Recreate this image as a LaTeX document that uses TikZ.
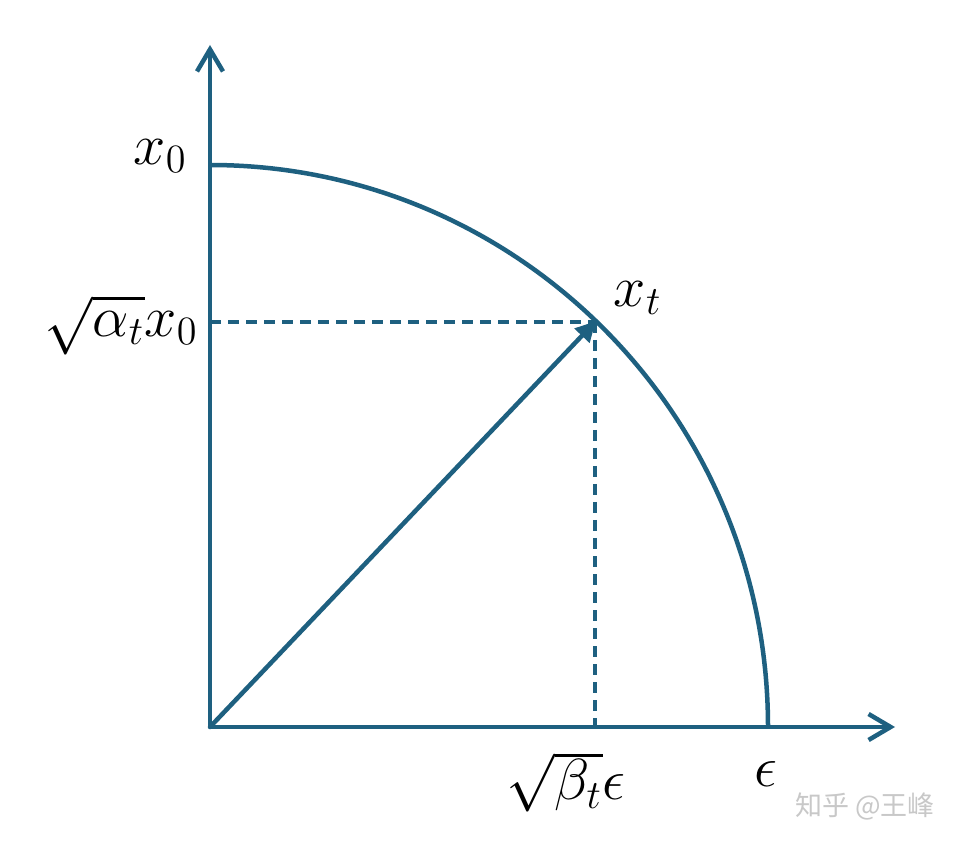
\documentclass[tikz,border=0pt]{standalone}
\usepackage{fontspec}
\usetikzlibrary{arrows.meta}
\newfontfamily\cjk{Noto Sans CJK SC}
\definecolor{axisblue}{RGB}{30,96,128}
\definecolor{wmgray}{RGB}{200,200,200}
\tikzset{
  axisline/.style={draw=axisblue, line width=4.5pt, line cap=round, -{Straight Barb[length=22pt,width=26pt,line width=4.5pt]}},
  curveline/.style={draw=axisblue, line width=4.5pt},
  vecline/.style={draw=axisblue, line width=4.5pt, -{Triangle[length=20pt,width=20pt]}, shorten >=-1pt},
  dashline/.style={draw=axisblue, line width=4pt, dash pattern=on 11pt off 7pt},
  mathlabel/.style={inner sep=0pt, font=\LARGE, scale=3.35, transform shape},
}
\begin{document}
\begin{tikzpicture}[x=1pt,y=1pt]
\path[use as bounding box, fill=white] (0,0) rectangle (966,844);
\coordinate (O) at (210,117);
\coordinate (ytip) at (210,799);
\coordinate (xtip) at (895,117);
\coordinate (top) at (210,679);
\coordinate (xt) at (595,522);
\coordinate (ya) at (210,522);
\coordinate (xb) at (595,117);
% dashed projections
\draw[dashline] (ya) -- (xt);
\draw[dashline] (xt) -- (xb);
% arc
\draw[curveline] (top) arc[start angle=90, end angle=0, x radius=558, y radius=562];
% axes
\draw[axisline] (O) -- (ytip);
\draw[axisline] (O) -- (xtip);
% vector
\draw[vecline] (O) -- (xt);
% labels
\node[mathlabel, anchor=east] (lx0) at (188,688) {$x_0$};
\node[mathlabel, anchor=east] (lax) at (199,519) {$\sqrt{\alpha_t}x_0$};
\node[mathlabel] (lxt) at (638,546) {$x_t$};
\node[mathlabel] (lbe) at (566,62) {$\sqrt{\beta_t}\epsilon$};
\node[mathlabel] (leps) at (766,70) {$\epsilon$};
\node[inner sep=0pt, text=wmgray, font=\cjk\fontsize{27}{30}\selectfont] (wm) at (865,38) {知乎 @王峰};
\end{tikzpicture}
\end{document}
